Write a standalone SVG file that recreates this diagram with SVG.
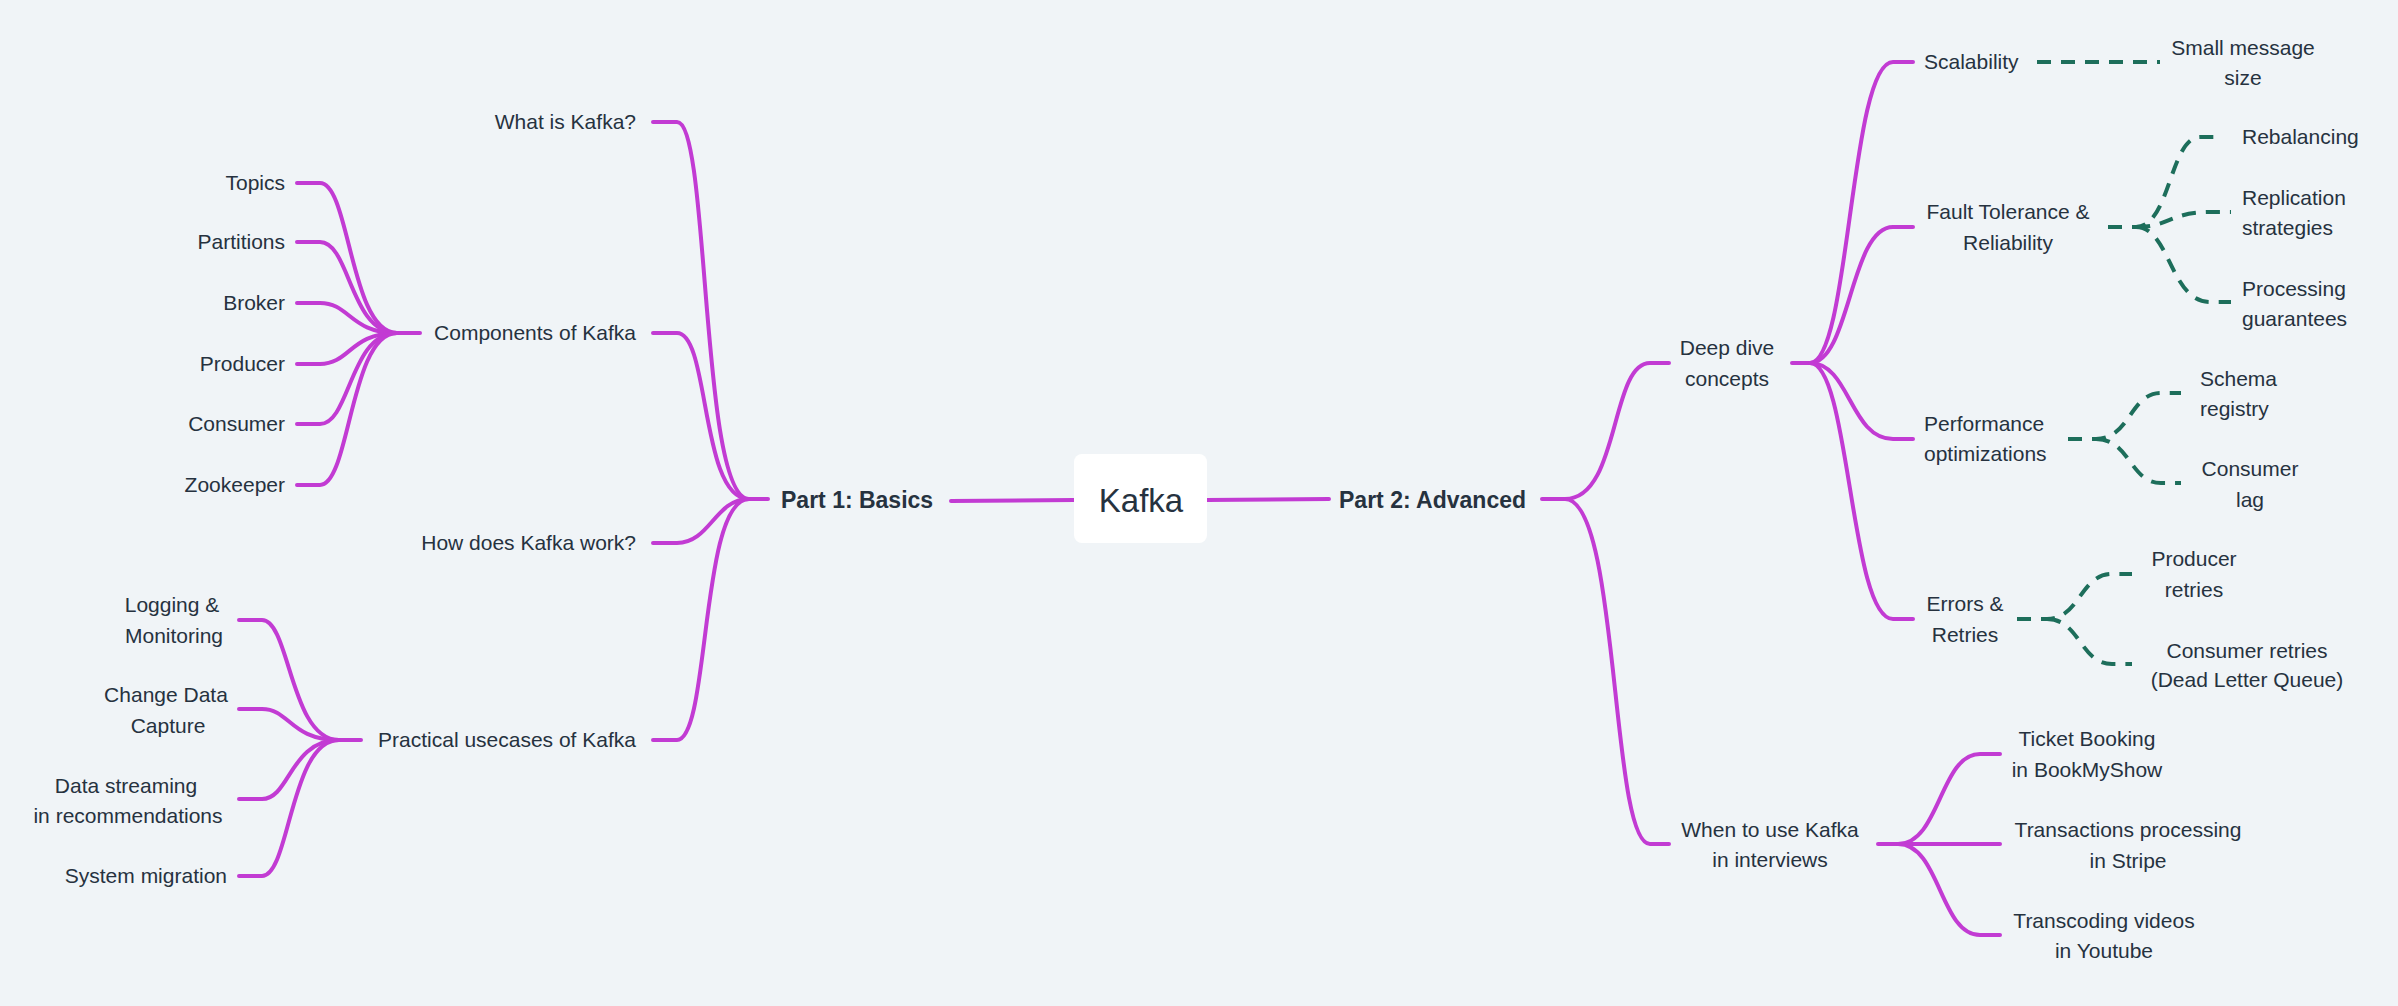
<svg xmlns="http://www.w3.org/2000/svg" width="2398" height="1006" viewBox="0 0 2398 1006">
<style>
text{font-family:"Liberation Sans",Arial,sans-serif;font-size:21px;fill:#26323f}
.b{font-weight:bold;font-size:23px}
.m{text-anchor:middle}.e{text-anchor:end}
.p{fill:none;stroke:#c23bd3;stroke-width:4;stroke-linecap:round}
.g{fill:none;stroke:#1d6e5b;stroke-width:4;stroke-dasharray:14 10}
</style>
<rect width="2398" height="1006" fill="#f0f4f7"/>
<g id="connectors">
<path class="p" d="M1074 500 L951 501"/>
<path class="p" d="M1207 500 L1329 499"/>
<path class="p" d="M768 499 H749 C700 499 710 122 677 122 H653"/>
<path class="p" d="M749 499 C700 499 710 333 677 333 H653"/>
<path class="p" d="M749 499 C715 499 710 543 677 543 H653"/>
<path class="p" d="M749 499 C700 499 710 740 677 740 H653"/>
<path class="p" d="M420 333 H397 C350 333 350 183 320 183 H297"/>
<path class="p" d="M397 333 C350 333 350 242 320 242 H297"/>
<path class="p" d="M397 333 C350 333 350 303 320 303 H297"/>
<path class="p" d="M397 333 C350 333 350 364 320 364 H297"/>
<path class="p" d="M397 333 C350 333 350 424 320 424 H297"/>
<path class="p" d="M397 333 C350 333 350 485 320 485 H297"/>
<path class="p" d="M361 740 H339 C290 740 290 620 262 620 H239"/>
<path class="p" d="M339 740 C290 740 290 709 262 709 H239"/>
<path class="p" d="M339 740 C290 740 290 799 262 799 H239"/>
<path class="p" d="M339 740 C290 740 290 876 262 876 H239"/>
<path class="p" d="M1542 499 H1565 C1620 499 1610 363 1650 363 H1669"/>
<path class="p" d="M1565 499 C1620 499 1610 844 1650 844 H1669"/>
<path class="p" d="M1792 363 H1810 C1850 363 1850 62 1893 62 H1913"/>
<path class="p" d="M1810 363 C1850 363 1850 227 1893 227 H1913"/>
<path class="p" d="M1810 363 C1850 363 1850 439 1893 439 H1913"/>
<path class="p" d="M1810 363 C1850 363 1850 619 1893 619 H1913"/>
<path class="p" d="M1878 844 H1898 C1940 844 1940 754 1980 754 H2000"/>
<path class="p" d="M1898 844 H2000"/>
<path class="p" d="M1898 844 C1940 844 1940 935 1980 935 H2000"/>
<path class="g" d="M2037 62 H2160"/>
<path class="g" d="M2108 227 H2136 C2170 227 2170 137 2200 137 H2220"/>
<path class="g" d="M2136 227 C2170 227 2170 212 2210 212 H2231"/>
<path class="g" d="M2136 227 C2170 227 2170 302 2210 302 H2231"/>
<path class="g" d="M2068 439 H2096 C2130 439 2130 393 2161 393 H2181"/>
<path class="g" d="M2096 439 C2130 439 2130 483 2161 483 H2181"/>
<path class="g" d="M2017 619 H2047 C2080 619 2080 574 2112 574 H2132"/>
<path class="g" d="M2047 619 C2080 619 2080 664 2112 664 H2132"/>
</g>
<g id="kafka"><rect x="1074" y="454" width="133" height="89" rx="8" fill="#fff"/><text class="m" x="1141" y="512" style="font-size:33px">Kafka</text></g>
<g id="part1"><text class="b" x="781" y="508">Part 1: Basics</text></g>
<g id="part2"><text class="b" x="1339" y="508">Part 2: Advanced</text></g>
<g id="what"><text class="e" x="636" y="129">What is Kafka?</text></g>
<g id="components"><text class="e" x="636" y="340">Components of Kafka</text></g>
<g id="how"><text class="e" x="636" y="550">How does Kafka work?</text></g>
<g id="practical"><text class="e" x="636" y="747">Practical usecases of Kafka</text></g>
<g id="topics"><text class="e" x="285" y="190">Topics</text></g>
<g id="partitions"><text class="e" x="285" y="249">Partitions</text></g>
<g id="broker"><text class="e" x="285" y="310">Broker</text></g>
<g id="producer"><text class="e" x="285" y="371">Producer</text></g>
<g id="consumer"><text class="e" x="285" y="431">Consumer</text></g>
<g id="zookeeper"><text class="e" x="285" y="492">Zookeeper</text></g>
<g id="logging"><text class="m" x="172" y="612">Logging &amp;</text><text class="m" x="174" y="643">Monitoring</text></g>
<g id="cdc"><text class="m" x="166" y="702">Change Data</text><text class="m" x="168" y="733">Capture</text></g>
<g id="streaming"><text class="m" x="126" y="793">Data streaming</text><text class="m" x="128" y="823">in recommendations</text></g>
<g id="migration"><text class="e" x="227" y="883">System migration</text></g>
<g id="deepdive"><text class="m" x="1727" y="355">Deep dive</text><text class="m" x="1727" y="386">concepts</text></g>
<g id="when"><text class="m" x="1770" y="837">When to use Kafka</text><text class="m" x="1770" y="867">in interviews</text></g>
<g id="scalability"><text x="1924" y="69">Scalability</text></g>
<g id="fault"><text class="m" x="2008" y="219">Fault Tolerance &amp;</text><text class="m" x="2008" y="250">Reliability</text></g>
<g id="performance"><text x="1924" y="431">Performance</text><text x="1924" y="461">optimizations</text></g>
<g id="errors"><text class="m" x="1965" y="611">Errors &amp;</text><text class="m" x="1965" y="642">Retries</text></g>
<g id="smallmsg"><text class="m" x="2243" y="55">Small message</text><text class="m" x="2243" y="85">size</text></g>
<g id="rebalancing"><text x="2242" y="144">Rebalancing</text></g>
<g id="replication"><text x="2242" y="205">Replication</text><text x="2242" y="235">strategies</text></g>
<g id="processing"><text x="2242" y="296">Processing</text><text x="2242" y="326">guarantees</text></g>
<g id="schema"><text x="2200" y="386">Schema</text><text x="2200" y="416">registry</text></g>
<g id="lag"><text class="m" x="2250" y="476">Consumer</text><text class="m" x="2250" y="507">lag</text></g>
<g id="prodretries"><text class="m" x="2194" y="566">Producer</text><text class="m" x="2194" y="597">retries</text></g>
<g id="consretries"><text class="m" x="2247" y="658">Consumer retries</text><text class="m" x="2247" y="687">(Dead Letter Queue)</text></g>
<g id="ticket"><text class="m" x="2087" y="746">Ticket Booking</text><text class="m" x="2087" y="777">in BookMyShow</text></g>
<g id="stripe"><text class="m" x="2128" y="837">Transactions processing</text><text class="m" x="2128" y="868">in Stripe</text></g>
<g id="youtube"><text class="m" x="2104" y="928">Transcoding videos</text><text class="m" x="2104" y="958">in Youtube</text></g>
</svg>
